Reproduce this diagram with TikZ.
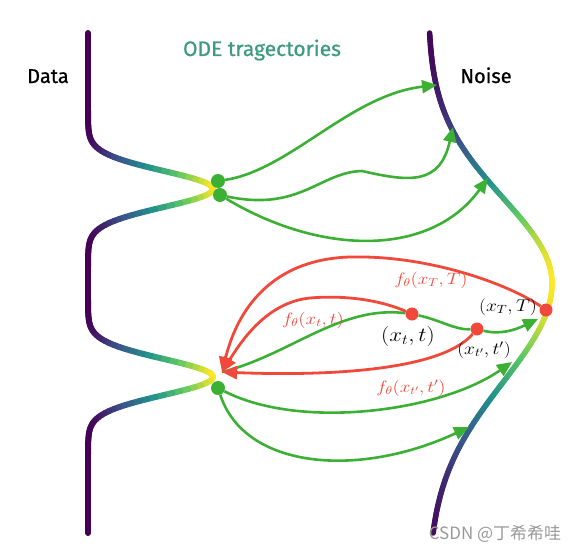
\RequirePackage{fix-cm}
\documentclass[tikz,border=0pt]{standalone}
\usepackage{graphicx}
\usepackage{fontspec}
\newfontfamily\labfont[FakeBold=0.8]{Fira Sans}
\newfontfamily\cjkfont{Noto Sans CJK SC}
\usetikzlibrary{arrows.meta}

\definecolor{vir0}{HTML}{440154}
\definecolor{vir1}{HTML}{3B528B}
\definecolor{vir2}{HTML}{21918C}
\definecolor{vir3}{HTML}{5EC962}
\definecolor{vir4}{HTML}{FDE725}
\definecolor{odegreen}{HTML}{3CB034}
\definecolor{fred}{HTML}{F0493B}
\definecolor{odetext}{HTML}{3F9B80}

% viridis shade for a value in [0,1]
\newcommand{\setvir}[1]{%
  \pgfmathsetmacro{\vv}{4*max(0,min(0.999,#1))}%
  \pgfmathtruncatemacro{\vi}{floor(\vv)}%
  \pgfmathtruncatemacro{\vp}{100*(\vv-\vi)}%
  \ifcase\vi \colorlet{vcol}{vir1!\vp!vir0}%
  \or \colorlet{vcol}{vir2!\vp!vir1}%
  \or \colorlet{vcol}{vir3!\vp!vir2}%
  \else \colorlet{vcol}{vir4!\vp!vir3}\fi}
\newcommand{\wide}[1]{\scalebox{1.15}[1]{#1}}

\tikzset{
  ode/.style={odegreen, line width=2.6pt},
  traj/.style={ode, -{Triangle[length=15pt,width=13pt]}},
  back/.style={fred, line width=2.8pt, -{Triangle[length=15pt,width=13pt]}},
  gdot/.style={circle, fill=odegreen, inner sep=0pt, minimum size=14pt},
  rdot/.style={circle, fill=fred, inner sep=0pt, minimum size=13pt},
  title/.style={anchor=base, font=\labfont\fontsize{20}{24}\selectfont},
  flab/.style={text=fred, inner sep=0pt, font=\fontsize{16.5}{20}\selectfont},
  plab/.style={inner sep=0pt, font=\fontsize{17}{20}\selectfont}
}

\begin{document}
\begin{tikzpicture}[x=1pt, y=-1pt]
\useasboundingbox (0,0) rectangle (580,551);

% data density
\foreach \yy in {33,35,...,531}{
  \pgfmathsetmacro{\fa}{exp(-min(9,((\yy-189)/25.5)^2))+exp(-min(9,((\yy-377)/25.5)^2))}
  \pgfmathsetmacro{\fb}{exp(-min(9,((\yy+2-189)/25.5)^2))+exp(-min(9,((\yy+2-377)/25.5)^2))}
  \setvir{(\fa+\fb)/2}
  \draw[vcol, line width=6pt, line cap=round] (88+125*\fa,\yy) -- (88+125*\fb,\yy+2);
}
% noise density
\foreach \yy in {33,35,...,531}{
  \pgfmathsetmacro{\fa}{exp(-((\yy-283)/(\yy<283?120:140))^2)}
  \pgfmathsetmacro{\fb}{exp(-((\yy+2-283)/(\yy+2<283?120:140))^2)}
  \setvir{(\fa+\fb)/2}
  \draw[vcol, line width=5.5pt, line cap=round] (428+124*\fa,\yy) -- (428+124*\fb,\yy+2);
}

\node[title] (data) at (48,83) {Data};
\node[title] (noise) at (486,83) {Noise};
\node[title, text=odetext, font=\labfont\fontsize{21}{25}\selectfont] (ode) at (262,56) {ODE tragectories};

\node[gdot] (upa) at (218,181) {};
\node[gdot] (upb) at (220,195) {};
\node[gdot] (low) at (218,388) {};
\coordinate (hub) at (222,372);
\node[rdot] (xt) at (412,314) {};
\node[rdot] (xtp) at (477,329) {};
\node[rdot] (xT) at (546,310) {};

\coordinate (n1) at (437,85);
\coordinate (n2) at (453,127);
\coordinate (n3) at (488,178);
\coordinate (nG) at (538,319);
\coordinate (n5) at (512,362);
\coordinate (n6) at (469,427);

% ODE trajectories
\draw[traj] (upa) .. controls (290,170) and (350,95) .. (n1);
\draw[ode] (upb) .. controls (300,212) and (320,172) .. (362,171);
\draw[traj] (362,171) .. controls (410,182) and (440,185) .. (n2);
\draw[traj] (upb) .. controls (320,255) and (430,258) .. (n3);
\draw[ode] (hub) .. controls (290,355) and (340,305) .. (xt);
\draw[ode] (xt) .. controls (440,320) and (455,330) .. (xtp);
\draw[traj] (xtp) .. controls (500,335) and (515,330) .. (nG);
\draw[traj] (low) .. controls (300,430) and (440,412) .. (n5);
\draw[traj] (low) .. controls (245,470) and (360,478) .. (n6);

% consistency mappings
\draw[back] (xT) .. controls (510,285) and (430,255) .. (350,257)
  .. controls (280,259) and (240,300) .. (hub);
\draw[back] (xt) .. controls (380,300) and (345,295) .. (310,298)
  .. controls (270,302) and (245,335) .. (hub);
\draw[back] (xtp) .. controls (440,372) and (320,376) .. (hub);

\node[flab] (fT) at (431,280) {\wide{$f_\theta(x_T,T)$}};
\node[flab] (ft) at (313,320) {\wide{$f_\theta(x_t,t)$}};
\node[flab] (ftp) at (411,388) {\wide{$f_\theta(x_{t'},t')$}};
\node[plab, font=\fontsize{20}{24}\selectfont] (pt) at (408,336) {\wide{$(x_t,t)$}};
\node[plab] (ptp) at (484,350) {\wide{$(x_{t'},t')$}};
\node[plab] (pT) at (508,307) {\wide{$(x_T,T)$}};

\node[anchor=base, text=black!40] (mark) at (495,539) {\cjkfont\fontsize{17}{20}\selectfont CSDN @丁希希哇};
\end{tikzpicture}
\end{document}
